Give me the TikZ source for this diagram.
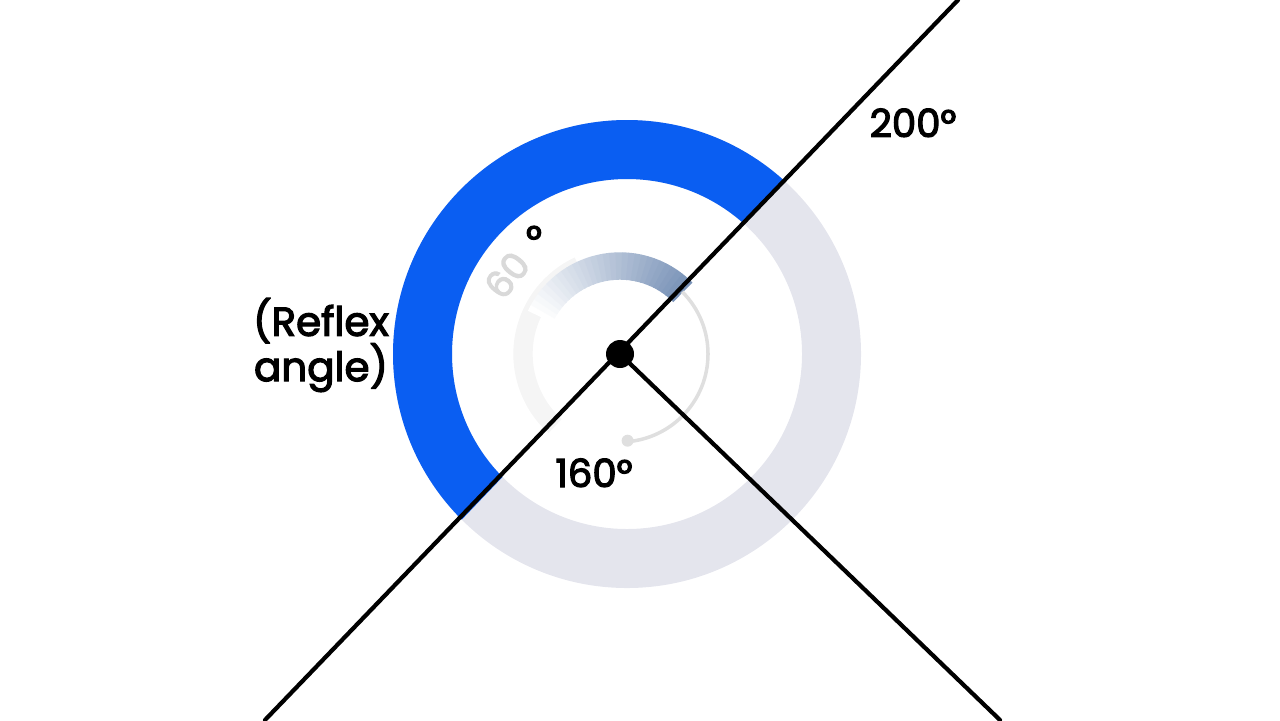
\documentclass[tikz,border=0pt]{standalone}
\usepackage{fontspec}
\setmainfont{Poppins}[FakeBold=3]
\usetikzlibrary{calc}
\definecolor{ringblue}{HTML}{0A5EF2}
\definecolor{ringgray}{HTML}{E4E5ED}
\definecolor{arcsteel}{HTML}{7A93B8}
\tikzset{
  leg/.style={line width=1.2pt, line cap=round},
  deglabel/.style={font=\fontsize{11}{13}\selectfont},
}
\begin{document}
\begin{tikzpicture}[x=0.01cm,y=0.01cm]
\useasboundingbox (0,0) rectangle (1280,720);
\coordinate (O) at (620,366);
\coordinate (M) at (627,366);
\coordinate (A) at (958,720);
\coordinate (B) at (265,0);
\coordinate (C) at (1000,0);

% outer ring, blue on the reflex side
\fill[ringgray, even odd rule] (M) circle (234) (M) circle (175);
\begin{scope}
\clip[rotate around={46.3:(O)}] ($(O)+(-900,0)$) rectangle ($(O)+(900,900)$);
\fill[ringblue, even odd rule] (M) circle (234) (M) circle (175);
\end{scope}

% inner dial
\draw[gray!8, line width=5.5pt] (O) ++(228:97) arc[start angle=228, end angle=115, radius=97];
\foreach \i in {0,...,29}{
  \pgfmathsetmacro\a{155-\i*110/30}
  \pgfmathsetmacro\p{\i*100/29}
  \draw[arcsteel!\p!white, line width=7.8pt] (O) ++(\a:88) arc[start angle=\a, end angle=\a-4.2, radius=88];
}
\draw[gray!25, line width=1pt] (O) ++(45:88) arc[start angle=45, end angle=-85, radius=88];
\fill[gray!25] (O) ++(-85:87) circle (6);

% legs and vertex
\draw[leg] (B) -- (A);
\draw[leg] (O) -- (C);
\fill (O) circle (14);

% labels
\node[deglabel, anchor=base] (big) at (913,583) {200°};
\node[deglabel, anchor=base] (small) at (594,233) {160°};
\node[font=\fontsize{11.5}{10.5}\selectfont, align=center] (reflex) at (321,375) {(Reflex\\[-1pt]angle)};
\node[font=\fontsize{10.5}{12}\selectfont, text=gray!30, rotate=51, inner sep=0pt] (sixty) at (507,445) {60};
\node[deglabel, anchor=base, inner sep=0pt] (ring) at (534,467) {°};

\end{tikzpicture}
\end{document}
